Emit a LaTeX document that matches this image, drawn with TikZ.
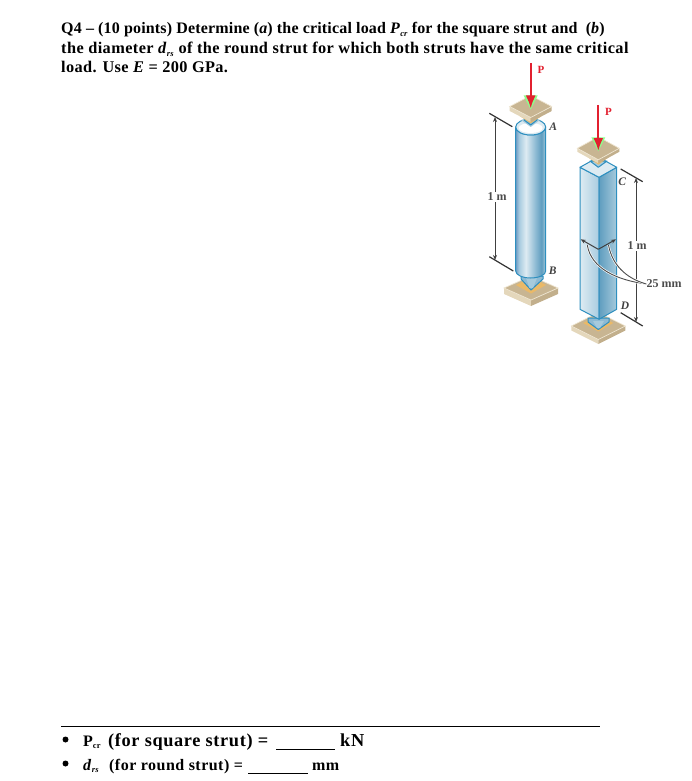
\documentclass[tikz,border=0pt]{standalone}
\usepackage{fontspec}
\setmainfont{Liberation Serif}
\usetikzlibrary{arrows.meta}

\definecolor{strutedge}{HTML}{6F9CC4}
\definecolor{strutlight}{HTML}{A9CCE0}
\definecolor{strutwhite}{HTML}{DDEBF2}
\definecolor{strutmid}{HTML}{8DBAD3}
\definecolor{strutdark}{HTML}{5F9DBF}
\definecolor{strutback}{HTML}{A6CADC}
\definecolor{strutline}{HTML}{2E8FBF}
\definecolor{platetop}{HTML}{C8B592}
\definecolor{plateleft}{HTML}{E4D7BB}
\definecolor{plateright}{HTML}{C2AF8C}
\definecolor{plateedge}{HTML}{EFE6D2}
\definecolor{seatcolor}{HTML}{EAB968}
\definecolor{loadred}{HTML}{E2202F}
\pgfdeclarehorizontalshading{roundstrut}{100bp}{
	color(0bp)=(strutedge); color(25bp)=(strutedge); color(31bp)=(strutlight); color(42bp)=(strutwhite);
	color(58bp)=(strutmid); color(68bp)=(strutdark); color(75bp)=(strutback); color(100bp)=(strutback)}

\tikzset{
	question/.style={anchor=base west,inner sep=0pt,font=\fontsize{16}{18}\selectfont\bfseries},
	questionbig/.style={question,font=\fontsize{16.3}{18}\selectfont\bfseries},
	answerbig/.style={anchor=base west,inner sep=0pt,font=\fontsize{18.3}{20}\selectfont\bfseries\addfontfeature{LetterSpace=3.5}},
	answersmall/.style={anchor=base west,inner sep=0pt,font=\fontsize{16}{18}\selectfont\bfseries\addfontfeature{LetterSpace=3}},
	figlabel/.style={inner sep=0pt,text=black!70,font=\fontsize{12}{12}\selectfont\bfseries},
	pointlabel/.style={inner sep=0pt,text=black!75,font=\fontsize{11.5}{12}\selectfont\bfseries\itshape},
	loadlabel/.style={inner sep=0pt,text=loadred,font=\fontsize{11}{12}\selectfont\bfseries},
	dimline/.style={draw=black!75,line width=1pt,-{Stealth[length=5pt,width=4pt]}},
	dimtick/.style={draw=black!80,line width=1.2pt},
	leaderline/.style={draw=black!70,line width=0.9pt,preaction={draw=white,line width=2.2pt}},
	loadarrow/.style={draw=loadred,line width=2.2pt,-{Latex[length=13pt,width=10pt]}},
	strutface/.style={draw=strutline,line width=1pt,line join=round},
	blankrule/.style={draw=black,line width=1pt}
}
\newcommand{\subtext}[1]{\raisebox{-2.2pt}{\fontsize{8.5}{9}\selectfont\textit{#1}}}

\begin{document}
\begin{tikzpicture}[x=1pt,y=-1pt]
	\useasboundingbox (0,0) rectangle (692,781);

	% question text
	\node[question] (lineone) at (61,34) {\addfontfeature{LetterSpace=1.1}Q4 -- (10 points) Determine (\textit{a}) the critical load \textit{P}\subtext{cr} for the square strut and~ (\textit{b})};
	\node[questionbig] (linetwo) at (61,54) {\addfontfeature{LetterSpace=2.6}the diameter \textit{d}\subtext{rs} of the round strut for which both struts have the same critical};
	\node[questionbig] (linethree) at (61,73) {\addfontfeature{LetterSpace=2.2}load. Use \textit{E} = 200 GPa.};

	% bottom plates
	\foreach \cx/\cy/\wx/\wy/\th in {531/288/27/12/6,598.3/326/27/13.5/4.5}{
		\fill[plateleft] (\cx-\wx,\cy) -- (\cx,\cy+\wy) -- ++(0,\th) -- (\cx-\wx,\cy+\th) -- cycle;
		\fill[plateright] (\cx+\wx,\cy) -- (\cx,\cy+\wy) -- ++(0,\th) -- (\cx+\wx,\cy+\th) -- cycle;
		\path[fill=platetop,draw=plateedge,line width=0.7pt] (\cx-\wx,\cy) -- (\cx,\cy-\wy) -- (\cx+\wx,\cy) -- (\cx,\cy+\wy) -- cycle;
		\fill[seatcolor] (\cx-15,\cy-3) -- (\cx,\cy-11) -- (\cx+15,\cy-3) -- (\cx,\cy+5.5) -- cycle;
	}

	% round strut
	\path[strutface,fill=strutmid] (521,276) -- (543,276) -- (543,279) -- (531,290) -- (521,279) -- cycle;
	\fill[strutback] (526,278) -- (537,278) -- (533,288) -- (529.5,288) -- cycle;
	\path[strutface,shading=roundstrut] (515.7,127) -- (515.7,271) arc[start angle=180,end angle=0,x radius=15,y radius=7] -- (545.7,127) arc[start angle=0,end angle=180,x radius=15,y radius=8] -- cycle;
	\path[strutface,fill=strutwhite] (530.7,127) ellipse[x radius=15,y radius=8];
	\fill[white] (530.7,128) ellipse[x radius=12,y radius=5];
	\fill[strutback] (521,120) -- (530.7,127) -- (540,120) -- cycle;
	\path[strutface,fill=strutmid] (524,120) -- (530.7,125) -- (537,120);

	% square strut
	\path[strutface,fill=strutmid] (588,318) -- (609,318) -- (609,322) -- (598.3,329.5) -- (588,322) -- cycle;
	\fill[strutback] (593,321) -- (604,321) -- (600,328) -- (597,328) -- cycle;
	\path[strutface,left color=strutwhite,right color=strutlight] (580,167.3) -- (599,177.3) -- (599,319.3) -- (580,309.3) -- cycle;
	\path[strutface,left color=strutdark,right color=strutback] (616.7,167.3) -- (599,177.3) -- (599,319.3) -- (616.7,309.3) -- cycle;
	\path[strutface,fill=strutwhite] (580,167.3) -- (598.3,157) -- (616.7,167.3) -- (599,177.3) -- cycle;
	\path[strutface,fill=strutback] (590,161) -- (598.3,167.3) -- (607,161) -- cycle;

	% top plates
	\foreach \cx/\cy/\wx/\wy/\th in {530.7/106.5/21/11/4.5,598.3/148.3/21/11.5/3.5}{
		\fill[seatcolor] (\cx-11,\cy+\th+5) -- (\cx,\cy+\wy+\th+1.3) -- (\cx+11,\cy+\th+5) -- cycle;
		\fill[plateleft] (\cx-\wx,\cy) -- (\cx,\cy+\wy) -- ++(0,\th) -- (\cx-\wx,\cy+\th) -- cycle;
		\fill[plateright] (\cx+\wx,\cy) -- (\cx,\cy+\wy) -- ++(0,\th) -- (\cx+\wx,\cy+\th) -- cycle;
		\path[fill=platetop,draw=plateedge,line width=0.7pt] (\cx-\wx,\cy) -- (\cx,\cy-\wy) -- (\cx+\wx,\cy) -- (\cx,\cy+\wy) -- cycle;
		\fill[green!45!white] (\cx-7,\cy-11) -- (\cx+7,\cy-11) -- (\cx,\cy+3) -- cycle;
	}

	% loads
	\coordinate (loadatop) at (530.7,63);
	\coordinate (loadaend) at (530.7,108.5);
	\coordinate (loadbtop) at (598.3,105);
	\coordinate (loadbend) at (598.3,151);
	\draw[loadarrow] (loadatop) -- (loadaend);
	\draw[loadarrow] (loadbtop) -- (loadbend);
	\node[loadlabel] (loada) at (541,70) {P};
	\node[loadlabel] (loadb) at (608.5,112) {P};

	% dimensions on the round strut
	\coordinate (ticka) at (489.3,113.3);
	\coordinate (tickaa) at (512.3,126.7);
	\coordinate (tickb) at (489.3,256.7);
	\coordinate (tickbb) at (513.3,271);
	\coordinate (dimatop) at (495,117);
	\coordinate (dimabot) at (495,260);
	\node[figlabel,inner ysep=1pt] (lenround) at (497,197) {1 m};
	\draw[dimtick] (ticka) -- (tickaa);
	\draw[dimtick] (tickb) -- (tickbb);
	\draw[dimline] (dimatop |- lenround.north) -- (dimatop);
	\draw[dimline] (dimabot |- lenround.south) -- (dimabot);

	% dimensions on the square strut
	\coordinate (tickc) at (620.7,169);
	\coordinate (tickcc) at (642.7,181.7);
	\coordinate (tickd) at (620.7,312.7);
	\coordinate (tickdd) at (642.7,326);
	\coordinate (dimctop) at (636,178);
	\coordinate (dimcbot) at (636,322);
	\node[figlabel,inner ysep=1pt] (lensquare) at (637,246) {1 m};
	\draw[dimtick] (tickc) -- (tickcc);
	\draw[dimtick] (tickd) -- (tickdd);
	\draw[dimline] (dimctop |- lensquare.north) -- (dimctop);
	\draw[dimline] (dimcbot |- lensquare.south) -- (dimcbot);

	% width of the square strut
	\coordinate (widthl) at (580.7,239.3);
	\coordinate (widthm) at (598.3,249.3);
	\coordinate (widthr) at (616,239.3);
	\coordinate (startl) at (587.3,245);
	\coordinate (startr) at (608.5,245);
	\node[figlabel] (width) at (664,284) {25 mm};
	\draw[dimline] (widthm) -- (widthl);
	\draw[dimline] (widthm) -- (widthr);
	\draw[leaderline] (startl) .. controls (591,268) and (616,280) .. (width.west);
	\draw[leaderline] (startr) .. controls (612,264) and (625,278) .. (width.west);

	% point labels
	\node[pointlabel] (pointa) at (553.3,126.7) {A};
	\node[pointlabel] (pointb) at (552.7,270.7) {B};
	\node[pointlabel] (pointc) at (622.3,181.7) {C};
	\node[pointlabel] (pointd) at (625,305.7) {D};

	% answer block
	\coordinate (rulel) at (61,726);
	\coordinate (ruler) at (600,726);
	\draw[blankrule] (rulel) -- (ruler);
	\foreach \y in {739.5,763.5}
		\fill[black] (65.5,\y) circle (3);
	\node[answersmall] (pcr) at (83,746.5) {P\subtext{\upshape cr}};
	\node[answerbig] (pcrtext) at (108,746.5) {(for square strut) =};
	\coordinate (blankal) at (276,749.5);
	\coordinate (blankar) at (335,749.5);
	\draw[blankrule] (blankal) -- (blankar);
	\node[answerbig] (pcrunit) at (340,746.5) {kN};
	\node[answersmall] (drs) at (83,770.5) {\textit{d}\subtext{rs}};
	\node[answersmall] (drstext) at (109,770.5) {(for round strut) =};
	\coordinate (blankbl) at (248,773.5);
	\coordinate (blankbr) at (308,773.5);
	\draw[blankrule] (blankbl) -- (blankbr);
	\node[answersmall] (drsunit) at (312,770.5) {mm};
\end{tikzpicture}
\end{document}
